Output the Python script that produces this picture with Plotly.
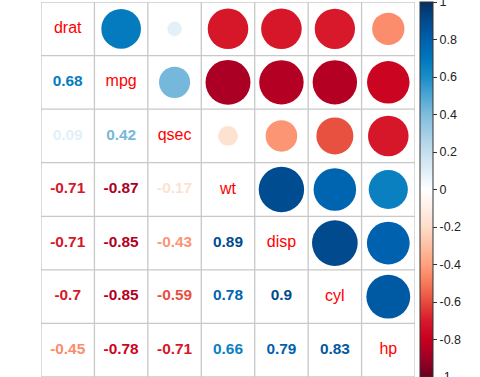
import plotly.graph_objects as go
from plotly.colors import sample_colorscale
import math

variables = ["drat", "mpg", "qsec", "wt", "disp", "cyl", "hp"]
# lower-triangle correlations, row i vs columns 0..i-1
lower = [
    [],
    [0.68],
    [0.09, 0.42],
    [-0.71, -0.87, -0.17],
    [-0.71, -0.85, -0.43, 0.89],
    [-0.70, -0.85, -0.59, 0.78, 0.90],
    [-0.45, -0.78, -0.71, 0.66, 0.79, 0.83],
]
colorbar_ticks = [-1, -0.8, -0.6, -0.4, -0.2, 0, 0.2, 0.4, 0.6, 0.8, 1]

n = len(variables)
R = [[1.0] * n for _ in range(n)]
for i in range(n):
    for j in range(i):
        R[i][j] = lower[i][j]
        R[j][i] = lower[i][j]

stops = ["#67001F", "#9E0026", "#C8001F", "#D7192B", "#E64B3C", "#F67A5A",
         "#FFA07E", "#FDBFA3", "#FDDDC9", "#FEEEE6", "#FFFFFF",
         "#E0EEF7", "#C5DFEF", "#A2CDE6", "#7FBDDD", "#4DA6D3",
         "#1A8DC7", "#0077BD", "#0060AD", "#004A8D", "#053061"]
colorscale = [[k / (len(stops) - 1), c] for k, c in enumerate(stops)]

def col(v):
    return sample_colorscale(colorscale, [(v + 1) / 2])[0]

W, H = 480, 377
ml, mr, mt, mb = 41, 64.5, 2.3, 0
cell = (W - ml - mr) / n

fig = go.Figure()

# grid lines
shapes = []
for k in range(n + 1):
    shapes.append(dict(type="line", xref="x", yref="y", x0=k - 0.5, x1=k - 0.5,
                       y0=-0.5, y1=n - 0.5, line=dict(color="#C8C8C8", width=1.3), layer="below"))
    shapes.append(dict(type="line", xref="x", yref="y", y0=k - 0.5, y1=k - 0.5,
                       x0=-0.5, x1=n - 0.5, line=dict(color="#C8C8C8", width=1.3), layer="below"))

# upper triangle circles
cx, cy, cv, cs = [], [], [], []
for i in range(n):
    for j in range(i + 1, n):
        v = R[i][j]
        cx.append(j); cy.append(i); cv.append(v)
        cs.append(0.9 * math.sqrt(abs(v)) * cell)
fig.add_trace(go.Scatter(
    x=cx, y=cy, mode="markers",
    marker=dict(size=cs, sizemode="diameter", color=cv, colorscale=colorscale,
                cmin=-1, cmax=1, opacity=1, line=dict(width=0),
                colorbar=dict(x=(420.7 - ml) / (W - ml - mr), xanchor="left", xpad=0,
                              y=0.5, yanchor="middle", len=1, lenmode="fraction", ypad=0,
                              thickness=13, outlinewidth=1, outlinecolor="#333",
                              tickmode="array", tickvals=colorbar_ticks,
                              ticktext=[f"{t:g}" for t in colorbar_ticks],
                              ticklabeloverflow="allow",
                              ticks="outside", ticklen=4, tickcolor="#333",
                              tickfont=dict(family="Liberation Sans, Arial", size=12.5, color="#222"))),
    hoverinfo="skip", showlegend=False))

# lower triangle numbers
tx, ty, tt, tc = [], [], [], []
for i in range(n):
    for j in range(i):
        v = R[i][j]
        tx.append(j); ty.append(i); tt.append(f"<b>{v:g}</b>"); tc.append(col(v))
fig.add_trace(go.Scatter(
    x=tx, y=ty, mode="text", text=tt,
    textfont=dict(family="Liberation Sans, Arial", size=15.4, color=tc),
    hoverinfo="skip", showlegend=False))

# diagonal labels
fig.add_trace(go.Scatter(
    x=list(range(n)), y=list(range(n)), mode="text", text=variables,
    textfont=dict(family="Liberation Sans, Arial", size=16, color="red"),
    hoverinfo="skip", showlegend=False))

fig.update_layout(
    width=W, height=H, margin=dict(l=ml, r=mr, t=mt, b=mb, pad=0, autoexpand=False),
    paper_bgcolor="white", plot_bgcolor="white", shapes=shapes,
    xaxis=dict(range=[-0.5, n - 0.5], visible=False, fixedrange=True),
    yaxis=dict(range=[n - 0.5, -0.5], visible=False, fixedrange=True),
)
fig.write_html("out.html", config={"displayModeBar": False, "staticPlot": True},
               post_script="document.body.style.margin='0';document.body.style.overflow='hidden';")
